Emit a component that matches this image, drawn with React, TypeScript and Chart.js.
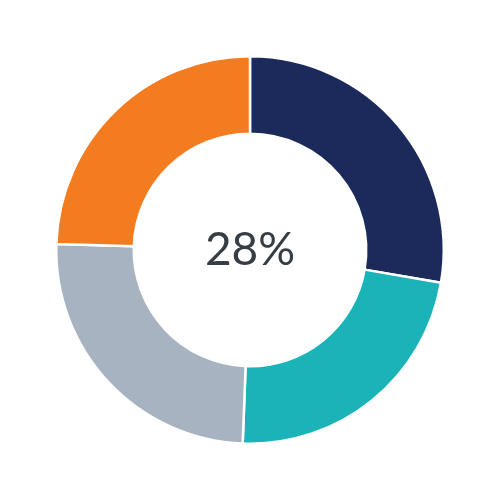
import React, { useEffect, useRef } from "react";
import { Chart, registerables } from "chart.js";

Chart.register(...registerables);

const labels = ["Navy", "Teal", "Gray", "Orange"];
const values = [27.7, 22.9, 24.9, 24.5];
const colors = ["#1b2a5a", "#1ab4b8", "#a8b3c2", "#f37b20"];
const centerText = "28%";

const centerLabel = {
	id: "centerLabel",
	afterDraw(chart: Chart) {
		const { ctx, chartArea } = chart;
		const x = (chartArea.left + chartArea.right) / 2;
		const y = (chartArea.top + chartArea.bottom) / 2;
		ctx.save();
		ctx.font = "46px Lato";
		ctx.fillStyle = "#363d45";
		ctx.textAlign = "center";
		ctx.textBaseline = "middle";
		ctx.fillText(centerText, x, y);
		ctx.restore();
	},
};

const App: React.FC = () => {
	const chartRef = useRef<HTMLCanvasElement>(null);
	const chartInstance = useRef<Chart | null>(null);

	useEffect(() => {
		document.body.style.margin = "0";
		if (!chartRef.current) return;
		if (chartInstance.current) chartInstance.current.destroy();
		chartInstance.current = new Chart(chartRef.current, {
			type: "doughnut",
			data: {
				labels,
				datasets: [
					{
						data: values,
						backgroundColor: colors,
						borderColor: "#ffffff",
						borderWidth: 2.5,
					},
				],
			},
			options: {
				animation: false,
				responsive: false,
				cutout: "60%",
				layout: { padding: 55 },
				plugins: {
					legend: { display: false },
					tooltip: { enabled: false },
				},
			},
			plugins: [centerLabel],
		});
		return () => {
			if (chartInstance.current) {
				chartInstance.current.destroy();
				chartInstance.current = null;
			}
		};
	}, []);

	return (
		<div style={{ width: 500, height: 500, background: "#ffffff" }}>
			<canvas ref={chartRef} width={500} height={500}></canvas>
		</div>
	);
};

export default App;
